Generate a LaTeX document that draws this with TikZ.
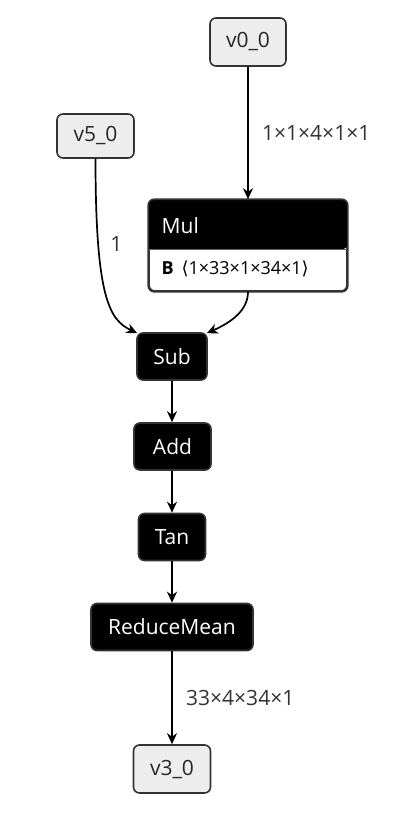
\documentclass[tikz,border=0pt]{standalone}
\usepackage{fontspec}
\setmainfont{Open Sans}
\newfontfamily\symfont{DejaVu Sans}
\usetikzlibrary{arrows.meta}

\begin{document}
\begin{tikzpicture}[x=1pt,y=1pt,
  every node/.style={font=\fontsize{21}{25}\selectfont},
  inbox/.style={draw=black!80, fill=black!7, line width=1.6pt, rounded corners=6pt, minimum height=46pt, text=black!85, inner xsep=10pt},
  opbox/.style={draw=black!80, fill=black, text=white, line width=1.6pt, rounded corners=6pt, minimum height=47pt, inner xsep=10pt},
  flow/.style={line width=1.7pt, -{Stealth[length=11pt,width=10pt,inset=3.5pt]}},
  dims/.style={text=black!80}]
\useasboundingbox (0,0) rectangle (415,-832);
\node[inbox, minimum width=76pt, minimum height=48pt] (v0) at (248,-42) {v0\_0};
\node[inbox, minimum width=77pt, minimum height=44pt] (v5) at (95.5,-136) {v5\_0};
\node[draw=black!80, fill=white, line width=1.6pt, rounded corners=6pt, minimum width=198pt, minimum height=91pt] (mul) at (248,-245.5) {};
\fill[black] ([yshift=-50]mul.north west) [rounded corners=6pt] -- (mul.north west) -- (mul.north east) -- ([yshift=-50]mul.north east) [sharp corners] -- cycle;
\draw[black!60, line width=1pt] ([yshift=-50]mul.north west) -- ([yshift=-50]mul.north east);
\draw[black!80, line width=1.6pt, rounded corners=6pt] (mul.south west) rectangle (mul.north east);
\node[anchor=west, text=white] (mulname) at ([xshift=10,yshift=-26]mul.north west) {Mul};
\node[anchor=west, font=\fontsize{18}{22}\selectfont] (mulattr) at ([xshift=10,yshift=-70]mul.north west) {\textbf{B}\, {\symfont ⟨}1×33×1×34×1{\symfont ⟩}};
\node[opbox, minimum width=70pt] (sub) at (172,-356.5) {Sub};
\node[opbox, minimum width=77pt] (add) at (172.5,-446.5) {Add};
\node[opbox, minimum width=67pt] (tan) at (172,-537) {Tan};
\node[opbox, minimum width=162pt] (rm) at (172,-627) {ReduceMean};
\node[inbox, minimum width=77pt, minimum height=48pt] (v3) at (172,-769) {v3\_0};
\draw[flow] (v0) -- node[dims, right=10pt] {1×1×4×1×1} (mul);
\draw[flow] (v5.south) .. controls (95.5,-300) and (110,-320) .. ([xshift=1,yshift=-1]sub.north west) node[dims, pos=0.25, right=8pt] {1};
\draw[flow] (mul.south) .. controls (248,-310) and (232,-322) .. ([xshift=-1,yshift=-1]sub.north east);
\draw[flow] (sub) -- (sub |- add.north);
\draw[flow] (tan |- add.south) -- (tan);
\draw[flow] (tan) -- (rm);
\draw[flow] (rm) -- node[dims, right=10pt] {33×4×34×1} (v3);
\end{tikzpicture}
\end{document}
